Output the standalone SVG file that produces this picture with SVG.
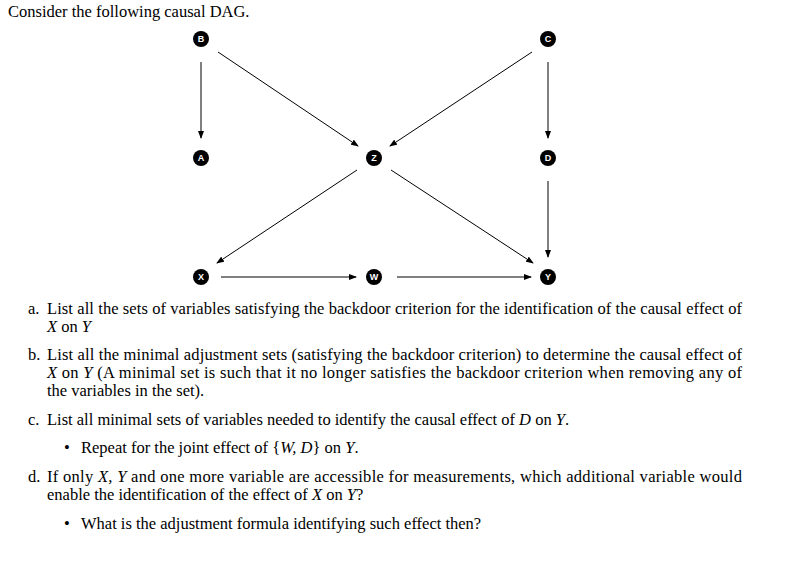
<svg xmlns="http://www.w3.org/2000/svg" width="792" height="567" viewBox="0 0 792 567">
<style>
.n circle{fill:#000}
.n text{fill:#fff;font-family:"Liberation Sans",Arial,sans-serif;font-weight:bold;font-size:9px;text-anchor:middle}
.e line{stroke:#000;stroke-width:1;marker-end:url(#ah)}
.t{font-family:"Liberation Serif","DejaVu Serif",serif;font-size:16.5px;fill:#000}
</style>
<defs><marker id="ah" markerWidth="8" markerHeight="6" refX="7" refY="3" orient="auto" markerUnits="userSpaceOnUse"><path d="M0,0L8,3L0,6z" fill="#000"/></marker></defs>
<rect width="792" height="567" fill="#fff"/>
<text class="t" x="8" y="17">Consider the following causal DAG.</text>
<g class="e">
<line x1="201" y1="62" x2="201" y2="138"/>
<line x1="218" y1="52" x2="358" y2="146"/>
<line x1="532" y1="52" x2="390" y2="146"/>
<line x1="548" y1="62" x2="548" y2="138"/>
<line x1="357" y1="170" x2="217" y2="263"/>
<line x1="391" y1="170" x2="533" y2="263"/>
<line x1="221" y1="277" x2="356" y2="277"/>
<line x1="397" y1="277" x2="531" y2="277"/>
<line x1="548" y1="181" x2="548" y2="257"/>
</g>
<g id="B" class="n"><circle cx="201" cy="39" r="8"/><text x="201" y="42.2">B</text></g>
<g id="C" class="n"><circle cx="548" cy="39" r="8"/><text x="548" y="42.2">C</text></g>
<g id="A" class="n"><circle cx="201" cy="158" r="8"/><text x="201" y="161.2">A</text></g>
<g id="Z" class="n"><circle cx="374" cy="158" r="8"/><text x="374" y="161.2">Z</text></g>
<g id="D" class="n"><circle cx="548" cy="158" r="8"/><text x="548" y="161.2">D</text></g>
<g id="X" class="n"><circle cx="201" cy="277" r="8"/><text x="201" y="280.2">X</text></g>
<g id="W" class="n"><circle cx="374" cy="277" r="8"/><text x="374" y="280.2">W</text></g>
<g id="Y" class="n"><circle cx="548" cy="277" r="8"/><text x="548" y="280.2">Y</text></g>
<g class="t">
<text x="28" y="314">a.</text>
<text x="47" y="314" textLength="695" lengthAdjust="spacing">List all the sets of variables satisfying the backdoor criterion for the identification of the causal effect of</text>
<text x="47" y="332"><tspan font-style="italic">X</tspan> on <tspan font-style="italic">Y</tspan></text>
<text x="28" y="360">b.</text>
<text x="47" y="360" textLength="695" lengthAdjust="spacing">List all the minimal adjustment sets (satisfying the backdoor criterion) to determine the causal effect of</text>
<text x="47" y="378" textLength="695" lengthAdjust="spacing"><tspan font-style="italic">X</tspan> on <tspan font-style="italic">Y</tspan> (A minimal set is such that it no longer satisfies the backdoor criterion when removing any of</text>
<text x="47" y="396">the variables in the set).</text>
<text x="28" y="425">c.</text>
<text x="47" y="425">List all minimal sets of variables needed to identify the causal effect of <tspan font-style="italic">D</tspan> on <tspan font-style="italic">Y</tspan>.</text>
<text x="64" y="453">•</text>
<text x="81" y="453">Repeat for the joint effect of {<tspan font-style="italic">W, D</tspan>} on <tspan font-style="italic">Y</tspan>.</text>
<text x="28" y="482">d.</text>
<text x="47" y="482" textLength="695" lengthAdjust="spacing">If only <tspan font-style="italic">X, Y</tspan> and one more variable are accessible for measurements, which additional variable would</text>
<text x="47" y="500">enable the identification of the effect of <tspan font-style="italic">X</tspan> on <tspan font-style="italic">Y</tspan>?</text>
<text x="64" y="529">•</text>
<text x="81" y="529">What is the adjustment formula identifying such effect then?</text>
</g>
</svg>
